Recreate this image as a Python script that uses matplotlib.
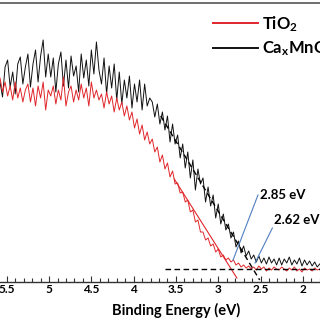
import matplotlib
matplotlib.use("Agg")
import matplotlib.pyplot as plt
from matplotlib.ticker import MultipleLocator

plt.rcParams['font.family'] = ['Lato', 'DejaVu Sans']
plt.rcParams['mathtext.fontset'] = 'custom'
plt.rcParams['mathtext.rm'] = 'Lato:bold'
plt.rcParams['mathtext.it'] = 'Lato:bold'
plt.rcParams['mathtext.bf'] = 'Lato:bold'

energy = [
    5.58, 5.55, 5.52, 5.49, 5.46, 5.43, 5.40, 5.37, 5.34, 5.31,
    5.28, 5.25, 5.22, 5.19, 5.16, 5.13, 5.10, 5.07, 5.04, 5.01,
    4.98, 4.95, 4.92, 4.89, 4.86, 4.83, 4.80, 4.77, 4.74, 4.71,
    4.68, 4.65, 4.62, 4.59, 4.56, 4.53, 4.50, 4.47, 4.44, 4.41,
    4.38, 4.35, 4.32, 4.29, 4.26, 4.23, 4.20, 4.17, 4.14, 4.11,
    4.08, 4.05, 4.02, 3.99, 3.96, 3.93, 3.90, 3.87, 3.84, 3.81,
    3.78, 3.75, 3.72, 3.69, 3.66, 3.63, 3.60, 3.57, 3.54, 3.51,
    3.48, 3.45, 3.42, 3.39, 3.36, 3.33, 3.30, 3.27, 3.24, 3.21,
    3.18, 3.15, 3.12, 3.09, 3.06, 3.03, 3.00, 2.97, 2.94, 2.91,
    2.88, 2.85, 2.82, 2.79, 2.76, 2.73, 2.70, 2.67, 2.64, 2.61,
    2.58, 2.55, 2.52, 2.49, 2.46, 2.43, 2.40, 2.37, 2.34, 2.31,
    2.28, 2.25, 2.22, 2.19, 2.16, 2.13, 2.10, 2.07, 2.04, 2.01,
    1.98, 1.95, 1.92, 1.89, 1.86, 1.83, 1.80,
]

camno = [
    200, 185, 215, 222, 195, 210, 188, 218, 225, 198,
    215, 228, 195, 218, 232, 200, 226, 242, 205, 228,
    205, 224, 190, 218, 230, 196, 222, 194, 226, 206,
    216, 190, 228, 204, 222, 196, 232, 208, 240, 212,
    198, 224, 188, 216, 194, 218, 182, 210, 178, 202,
    184, 206, 174, 198, 180, 202, 172, 198, 176, 184,
    180, 165, 178, 158, 170, 152, 166, 140, 158, 138,
    147, 124, 138, 114, 130, 104, 122, 92, 113, 98,
    104, 80, 95, 76, 87, 64, 78, 58, 68, 52,
    58, 44, 50, 35, 41, 29, 36, 26, 31, 23,
    27, 20, 26, 19, 24, 18, 25, 19, 23, 17,
    24, 17, 23, 19, 25, 17, 22, 18, 24, 16,
    22, 17, 21, 16, 20, 15, 18,
]

tio2 = [
    204, 190, 200, 186, 196, 182, 200, 184, 194, 180,
    192, 198, 180, 194, 176, 196, 184, 200, 172, 192,
    186, 196, 178, 192, 182, 205, 176, 190, 196, 180,
    192, 182, 198, 184, 194, 176, 200, 184, 192, 182,
    188, 174, 190, 178, 186, 170, 184, 172, 180, 166,
    176, 162, 170, 154, 163, 148, 157, 142, 150, 138,
    143, 130, 135, 120, 127, 113, 119, 105, 111, 98,
    99, 89, 90, 80, 82, 70, 72, 60, 62, 50,
    50, 42, 44, 36, 38, 30, 33, 25, 27, 22,
    24, 20, 22, 17, 19, 15, 17, 14, 16, 13,
    15, 12, 16, 13, 15, 11, 14, 12, 15, 13,
    12, 15, 13, 11, 14, 12, 15, 11, 13, 10,
    14, 12, 13, 11, 14, 12, 13,
]

# extrapolation lines (energy, intensity)
camno_fit_e = [3.68, 2.51]
camno_fit_i = [166, 2]
tio2_fit_e = [3.52, 2.78]
tio2_fit_i = [103, 4]
baseline_e = [3.63, 1.70]
baseline_i = [13, 13]

# annotations
labels = ["2.85 eV", "2.62 eV"]
pointer_from_e = [2.825, 2.565]
pointer_from_i = [22, 19]
pointer_to_e = [2.53, 2.36]
pointer_to_i = [87, 54]
text_e = [2.51, 2.345]
text_i = [87, 62]

fig = plt.figure(figsize=(3.2, 3.2), dpi=100)
ax = fig.add_axes([0.0, 0.11875, 1.0, 0.8719])

ax.plot(energy, tio2, color='#e0262b', lw=0.7, label='TiO$_2$', zorder=3)
ax.plot(energy, camno, color='#111111', lw=0.7, label='Ca$_x$MnO$_3$', zorder=2)

ax.plot(tio2_fit_e, tio2_fit_i, color='#e0262b', lw=0.8, zorder=4)
ax.plot(camno_fit_e, camno_fit_i, color='black', lw=1.0, ls=(0, (4, 2.5)), zorder=4)
ax.plot(baseline_e, baseline_i, color='black', lw=1.0, ls=(0, (4, 2.5)), zorder=4)

for lab, fe, fi, te, ti, xe, xi in zip(labels, pointer_from_e, pointer_from_i,
                                        pointer_to_e, pointer_to_i, text_e, text_i):
    ax.plot([fe, te], [fi, ti], color='#4f7fc0', lw=0.8, zorder=5)
    ax.text(xe, xi, lab, fontsize=9.5, fontweight='bold', ha='left', va='center',
            color='black')

ax.set_xlim(5.58, 1.797)
ax.set_ylim(0, 279)

ax.spines['left'].set_visible(False)
ax.spines['right'].set_visible(False)
ax.spines['top'].set_color('#555555')
ax.spines['top'].set_linewidth(1.2)
ax.spines['bottom'].set_color('#333333')
ax.spines['bottom'].set_linewidth(1.0)

ax.set_yticks([])
ax.xaxis.set_major_locator(MultipleLocator(0.5))
ax.xaxis.set_minor_locator(MultipleLocator(0.1))
ax.tick_params(axis='x', which='major', direction='in', length=4, width=0.8,
               labelsize=8.5, pad=1.5, colors='#333333', labelcolor='black')
ax.tick_params(axis='x', which='minor', direction='in', length=3, width=0.8,
               colors='#333333')
ax.set_xticks(ax.get_xticks())
ax.set_xticklabels([('%g' % v) for v in ax.get_xticks()], fontweight='bold')
ax.set_xlim(5.58, 1.797)

ax.set_xlabel('Binding Energy (eV)', fontsize=10.5, fontweight='bold')
ax.xaxis.set_label_coords(0.55, -0.075)

leg = ax.legend(loc='upper left', bbox_to_anchor=(213 / 320, 1 - 11 / 279),
                frameon=False, handlelength=2.7, handletextpad=0.25,
                borderpad=0, borderaxespad=0, labelspacing=0.35,
                prop={'weight': 'bold', 'size': 12})
for line in leg.get_lines():
    line.set_linewidth(1.4)

fig.savefig('out.png', dpi=100)
